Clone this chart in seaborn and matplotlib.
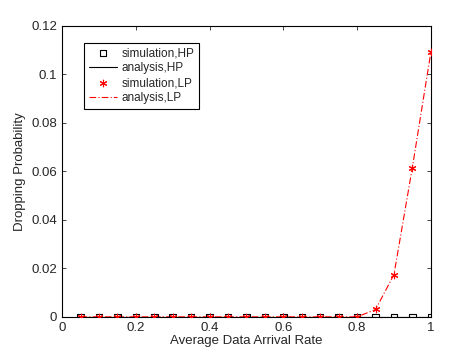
import numpy as np
import pandas as pd
import matplotlib
matplotlib.use("Agg")
import matplotlib.pyplot as plt
import matplotlib.ticker as mticker
import seaborn as sns

rate = [0.05, 0.10, 0.15, 0.20, 0.25, 0.30, 0.35, 0.40, 0.45, 0.50,
        0.55, 0.60, 0.65, 0.70, 0.75, 0.80, 0.85, 0.90, 0.95, 1.00]
sim_hp = [0.0] * 20
ana_hp = [0.0] * 20
sim_lp = [0.0] * 16 + [0.0034, 0.0173, 0.0616, 0.1092]
ana_lp = [0.0] * 16 + [0.0030, 0.0175, 0.0618, 0.1092]

df = pd.DataFrame({"rate": rate, "sim_hp": sim_hp, "ana_hp": ana_hp,
                   "sim_lp": sim_lp, "ana_lp": ana_lp})

sns.set_style("ticks")
plt.rcParams["font.family"] = ["Liberation Sans", "DejaVu Sans"]

fig = plt.figure(figsize=(4.74, 3.56), dpi=100)
ax = fig.add_axes([0.131, 0.11, 0.778, 0.817])

sns.lineplot(data=df, x="rate", y="ana_hp", ax=ax, color="black", lw=0.8,
             label="analysis,HP", zorder=2)
sns.lineplot(data=df, x="rate", y="ana_lp", ax=ax, color="red", lw=0.8,
             dashes=False, linestyle=(0, (6, 2, 1, 2)), label="analysis,LP", zorder=3)
sns.scatterplot(data=df, x="rate", y="sim_hp", ax=ax, marker="s", s=22,
                facecolor="none", edgecolor="black", linewidth=0.8,
                label="simulation,HP", zorder=4)
sns.scatterplot(data=df, x="rate", y="sim_lp", ax=ax, marker=(6, 2, 0), s=22,
                color="red", edgecolor="red", linewidth=0.8,
                label="simulation,LP", zorder=5)

ax.set_xlim(0, 1)
ax.set_ylim(0, 0.12)
ax.set_xticks(np.arange(0, 1.01, 0.2))
ax.set_yticks(np.arange(0, 0.121, 0.02))
ax.xaxis.set_major_formatter(mticker.FuncFormatter(lambda v, p: "%g" % round(v, 3)))
ax.yaxis.set_major_formatter(mticker.FuncFormatter(lambda v, p: "%g" % round(v, 3)))
ax.tick_params(direction="in", top=True, right=True, labelsize=9.5, length=3, width=0.6)
for s in ax.spines.values():
    s.set_linewidth(0.8)
    s.set_color("black")
ax.set_xlabel("Average Data Arrival Rate", fontsize=9.5, labelpad=1)
ax.set_ylabel("Dropping Probability", fontsize=9.5)

h, l = ax.get_legend_handles_labels()
order = [l.index(n) for n in ["simulation,HP", "analysis,HP", "simulation,LP", "analysis,LP"]]
leg = ax.legend([h[i] for i in order], [l[i] for i in order], loc="upper left",
                bbox_to_anchor=(0.05, 0.955), fontsize=8.5, frameon=True, fancybox=False,
                edgecolor="black", framealpha=1, handlelength=2.4, handletextpad=0.4,
                borderpad=0.4, labelspacing=0.25, borderaxespad=0.3)
leg.get_frame().set_linewidth(0.8)

fig.savefig("out.png", dpi=100)
